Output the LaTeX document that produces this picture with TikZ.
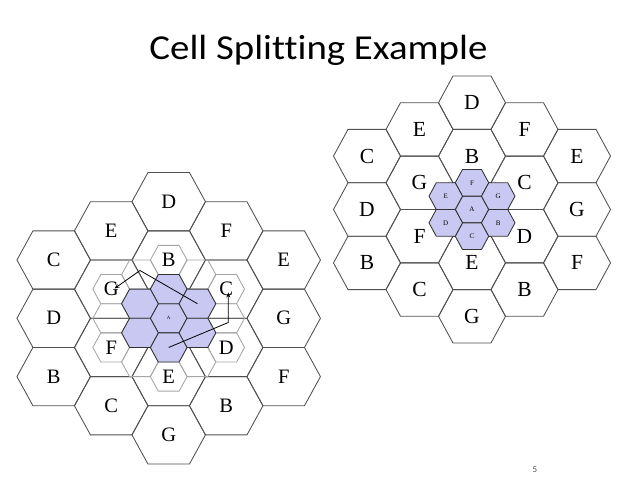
\documentclass[tikz,border=0pt]{standalone}
\usepackage{fontspec}
\usepackage{graphicx}
\setmainfont{Liberation Serif}
\newfontfamily\titlefont{Carlito}[Ligatures=NoCommon]
\usetikzlibrary{arrows.meta}
\definecolor{lav}{RGB}{200,200,242}
\definecolor{gridc}{RGB}{80,80,80}
\definecolor{lightc}{RGB}{165,165,165}
\definecolor{darkc}{RGB}{50,50,50}
\definecolor{pgnum}{RGB}{80,80,80}
\begin{document}
\begin{tikzpicture}[x=1pt,y=-1pt,
  bigline/.style={draw=gridc,line width=0.85pt},
  grayline/.style={draw=lightc,line width=0.85pt},
  purplehex/.style={draw=darkc,fill=lav,line width=0.85pt},
  biglabL/.style={font=\fontsize{20.5}{20.5}\selectfont,inner sep=0pt},
  biglabR/.style={font=\fontsize{21.5}{21.5}\selectfont,inner sep=0pt},
  smalllab/.style={font=\fontsize{7}{7}\selectfont,inner sep=0pt},
  tinylab/.style={font=\fontsize{5}{5}\selectfont,inner sep=0pt},
  arrowline/.style={draw=black,line width=0.8pt,-{Stealth[length=5pt,width=4pt]}}]
\useasboundingbox (0,0) rectangle (638,478);
% ---------- title and page number
\node[font=\titlefont\fontsize{35}{35}\selectfont,anchor=base,inner sep=0pt] (title) at (318.5,60) {\scalebox{1.11}[1]{Cell Splitting Example}};
\node[font=\titlefont\fontsize{9}{9}\selectfont,text=pgnum] (pg) at (535,470) {5};
% ---------- left cluster: big grid
\foreach \c/\k in {-2/-2,-2/0,-2/2,-1/-3,-1/-1,-1/1,-1/3,0/-4,0/-2,0/0,0/2,0/4,1/-3,1/-1,1/1,1/3,2/-2,2/0,2/2}{
  \pgfmathsetmacro\X{168.7+\c*57.5}
  \pgfmathsetmacro\Y{318.3+\k*29.15}
  \draw[bigline,shift={(\X,\Y)}] (-36.75,0) -- (-20.75,-29.15) -- (20.75,-29.15) -- (36.75,0) -- (20.75,29.15) -- (-20.75,29.15) -- cycle;
}
% ---------- left cluster: gray small ring
\foreach \c/\k in {0/-4,0/4,2/-2,2/2,-2/-2,-2/2,1/-3,1/3,-1/-3,-1/3,2/0,-2/0}{
  \pgfmathsetmacro\X{168.7+\c*28.75}
  \pgfmathsetmacro\Y{318.3+\k*14.575}
  \draw[grayline,shift={(\X,\Y)}] (-18.375,0) -- (-10.375,-14.575) -- (10.375,-14.575) -- (18.375,0) -- (10.375,14.575) -- (-10.375,14.575) -- cycle;
}
% ---------- left cluster: purple small cells
\foreach \c/\k in {0/0,0/-2,0/2,1/-1,1/1,-1/-1,-1/1}{
  \pgfmathsetmacro\X{168.7+\c*28.75}
  \pgfmathsetmacro\Y{318.3+\k*14.575}
  \draw[purplehex,shift={(\X,\Y)}] (-18.375,0) -- (-10.375,-14.575) -- (10.375,-14.575) -- (18.375,0) -- (10.375,14.575) -- (-10.375,14.575) -- cycle;
}
% ---------- left cluster labels
\foreach \c/\k/\lab [count=\i] in {-2/-2/C,-2/0/D,-2/2/B,-1/-3/E,-1/-1/G,-1/1/F,-1/3/C,0/-4/D,0/-2/B,0/2/E,0/4/G,1/-3/F,1/-1/C,1/1/D,1/3/B,2/-2/E,2/0/G,2/2/F}{
  \pgfmathsetmacro\X{168.7+\c*57.5}
  \pgfmathsetmacro\Y{318.3+\k*29.15}
  \node[biglabL] (L\i) at (\X,\Y) {\lab};
}
\node[tinylab] (LA) at (168.7,318.3) {A};
% ---------- left cluster arrows
\coordinate (p1) at (197.45,303.7);
\coordinate (q1) at (140,270.5);
\coordinate (t1) at (114.5,288.5);
\coordinate (p2) at (168.7,347.45);
\coordinate (q2) at (228.3,322.5);
\coordinate (t2) at (228.3,292.5);
\draw[arrowline] (p1) -- (q1) -- (t1);
\draw[arrowline] (p2) -- (q2) -- (t2);
% ---------- right cluster: big grid
\foreach \c/\k in {-2/-2,-2/0,-2/2,-1/-3,-1/-1,-1/1,-1/3,0/-4,0/-2,0/0,0/2,0/4,1/-3,1/-1,1/1,1/3,2/-2,2/0,2/2}{
  \pgfmathsetmacro\X{472+\c*52.5}
  \pgfmathsetmacro\Y{209.5+\k*26.7}
  \draw[bigline,shift={(\X,\Y)}] (-33.5,0) -- (-19,-26.7) -- (19,-26.7) -- (33.5,0) -- (19,26.7) -- (-19,26.7) -- cycle;
}
% ---------- right cluster: purple small cells
\foreach \c/\k/\lab [count=\i] in {0/0/A,0/-2/F,0/2/C,1/-1/G,1/1/B,-1/-1/E,-1/1/D}{
  \pgfmathsetmacro\X{472+\c*26.25}
  \pgfmathsetmacro\Y{209.5+\k*13.35}
  \draw[purplehex,shift={(\X,\Y)}] (-16.75,0) -- (-9.5,-13.35) -- (9.5,-13.35) -- (16.75,0) -- (9.5,13.35) -- (-9.5,13.35) -- cycle;
  \node[smalllab] (RS\i) at (\X,\Y) {\lab};
}
% ---------- right cluster labels
\foreach \c/\k/\lab [count=\i] in {-2/-2/C,-2/0/D,-2/2/B,-1/-3/E,-1/-1/G,-1/1/F,-1/3/C,0/-4/D,0/-2/B,0/2/E,0/4/G,1/-3/F,1/-1/C,1/1/D,1/3/B,2/-2/E,2/0/G,2/2/F}{
  \pgfmathsetmacro\X{472+\c*52.5}
  \pgfmathsetmacro\Y{209.5+\k*26.7}
  \node[biglabR] (R\i) at (\X,\Y) {\lab};
}
\end{tikzpicture}
\end{document}
